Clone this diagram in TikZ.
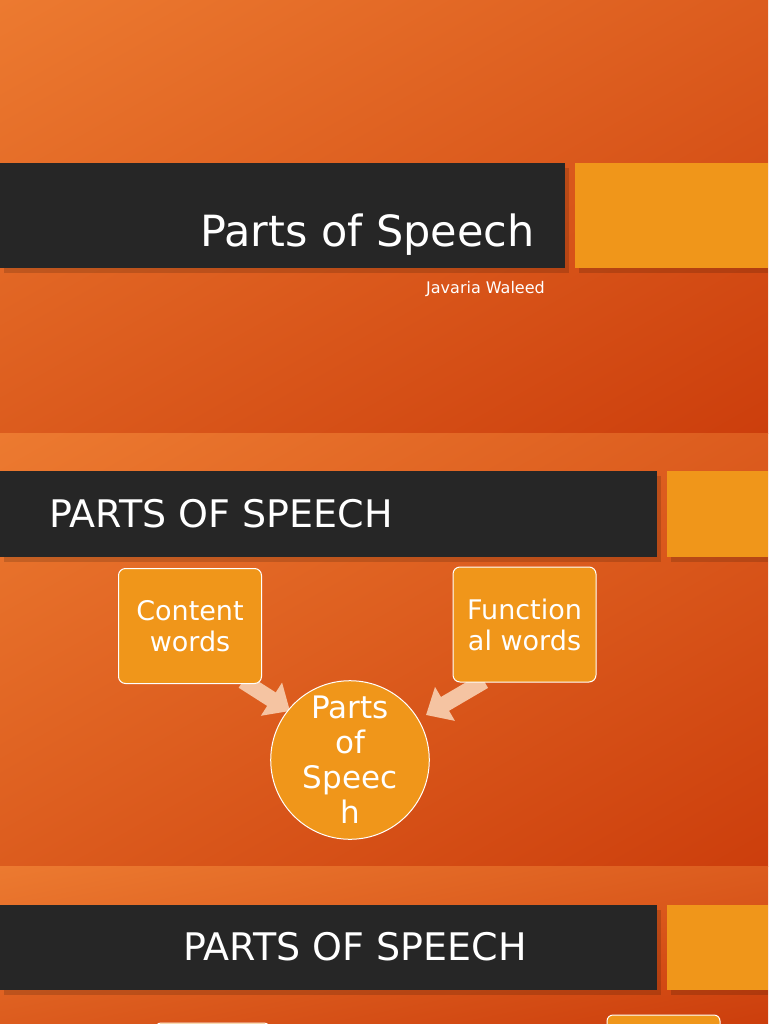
\documentclass[tikz,border=0pt]{standalone}
\usepackage{fontspec}
\setmainfont{DejaVu Sans}
\usetikzlibrary{arrows.meta,shadings}
\definecolor{bgA}{HTML}{EC7A30}
\definecolor{bgB}{HTML}{CC3E0C}
\colorlet{bgM}{bgA!50!bgB}
\definecolor{bar}{HTML}{262626}
\definecolor{acc}{HTML}{F0961A}
\definecolor{peach}{HTML}{F5C4A2}
\tikzset{
  bgslide/.style={upper left=bgA, lower right=bgB, upper right=bgM, lower left=bgM, draw=none},
  darkbar/.style={fill=bar, draw=none},
  accbox/.style={fill=acc, draw=none},
  wordbox/.style={fill=acc, draw=white, line width=1pt, rounded corners=7pt, text=white, align=center, font=\fontsize{27}{31}\selectfont},
  bigarrow/.style={draw=peach, line width=16pt, -{Triangle[width=38pt,length=22pt]}},
  titletext/.style={text=white, inner sep=0pt}
}
\begin{document}
\begin{tikzpicture}[x=1pt,y=-1pt]
\useasboundingbox (0,0) rectangle (768,1024);
% backgrounds
\shade[bgslide] (0,0) rectangle (768,433);
\shade[bgslide] (0,433) rectangle (768,866);
\shade[bgslide] (0,866) rectangle (768,1024);
% slide 1
\fill[black,opacity=0.15] (4,168) rectangle (569,273);
\fill[darkbar] (0,163) rectangle (565,268);
\fill[black,opacity=0.15] (579,168) rectangle (768,273);
\fill[accbox] (575,163) rectangle (768,268);
\node[titletext, anchor=base east, font=\fontsize{43}{48}\selectfont] (t1) at (535,246) {Parts of Speech};
\node[titletext, anchor=base east, font=\fontsize{16}{18}\selectfont] (sub) at (545,293) {Javaria Waleed};
% slide 2
\fill[black,opacity=0.15] (4,476) rectangle (661,562);
\fill[darkbar] (0,471) rectangle (657,557);
\fill[black,opacity=0.15] (671,476) rectangle (768,562);
\fill[accbox] (667,471) rectangle (768,557);
\node[titletext, anchor=west, font=\fontsize{38}{44}\selectfont] (t2) at (49,514) {PARTS OF SPEECH};
\coordinate (a1s) at (243,681);
\coordinate (a1e) at (290,711);
\coordinate (a2s) at (484,681);
\coordinate (a2e) at (426,715);
\draw[bigarrow] (a1s) -- (a1e);
\draw[bigarrow] (a2s) -- (a2e);
\node[wordbox, minimum width=143pt, minimum height=115pt] (cw) at (190,626) {Content\\words};
\node[wordbox, minimum width=143pt, minimum height=115pt] (fw) at (524.5,624.5) {Function\\al words};
\node[circle, fill=acc, draw=white, line width=1pt, minimum size=152pt, inner sep=0pt, text=white, align=center, font=\fontsize{31}{35}\selectfont] (ps) at (350,760) {Parts\\of\\Speec\\h};
% slide 3
\fill[black,opacity=0.15] (4,910) rectangle (661,995);
\fill[darkbar] (0,905) rectangle (657,990);
\fill[black,opacity=0.15] (671,910) rectangle (768,995);
\fill[accbox] (667,905) rectangle (768,990);
\node[titletext, anchor=center, font=\fontsize{38}{44}\selectfont] (t3) at (355,947) {PARTS OF SPEECH};
\begin{scope}
\clip (0,866) rectangle (768,1024);
\draw[fill=acc, draw=white, line width=1pt, rounded corners=6pt] (607,1015) rectangle (720,1100);
\draw[fill=acc, draw=white, line width=1pt, rounded corners=6pt] (155,1023) rectangle (270,1100);
\end{scope}
\end{tikzpicture}
\end{document}
